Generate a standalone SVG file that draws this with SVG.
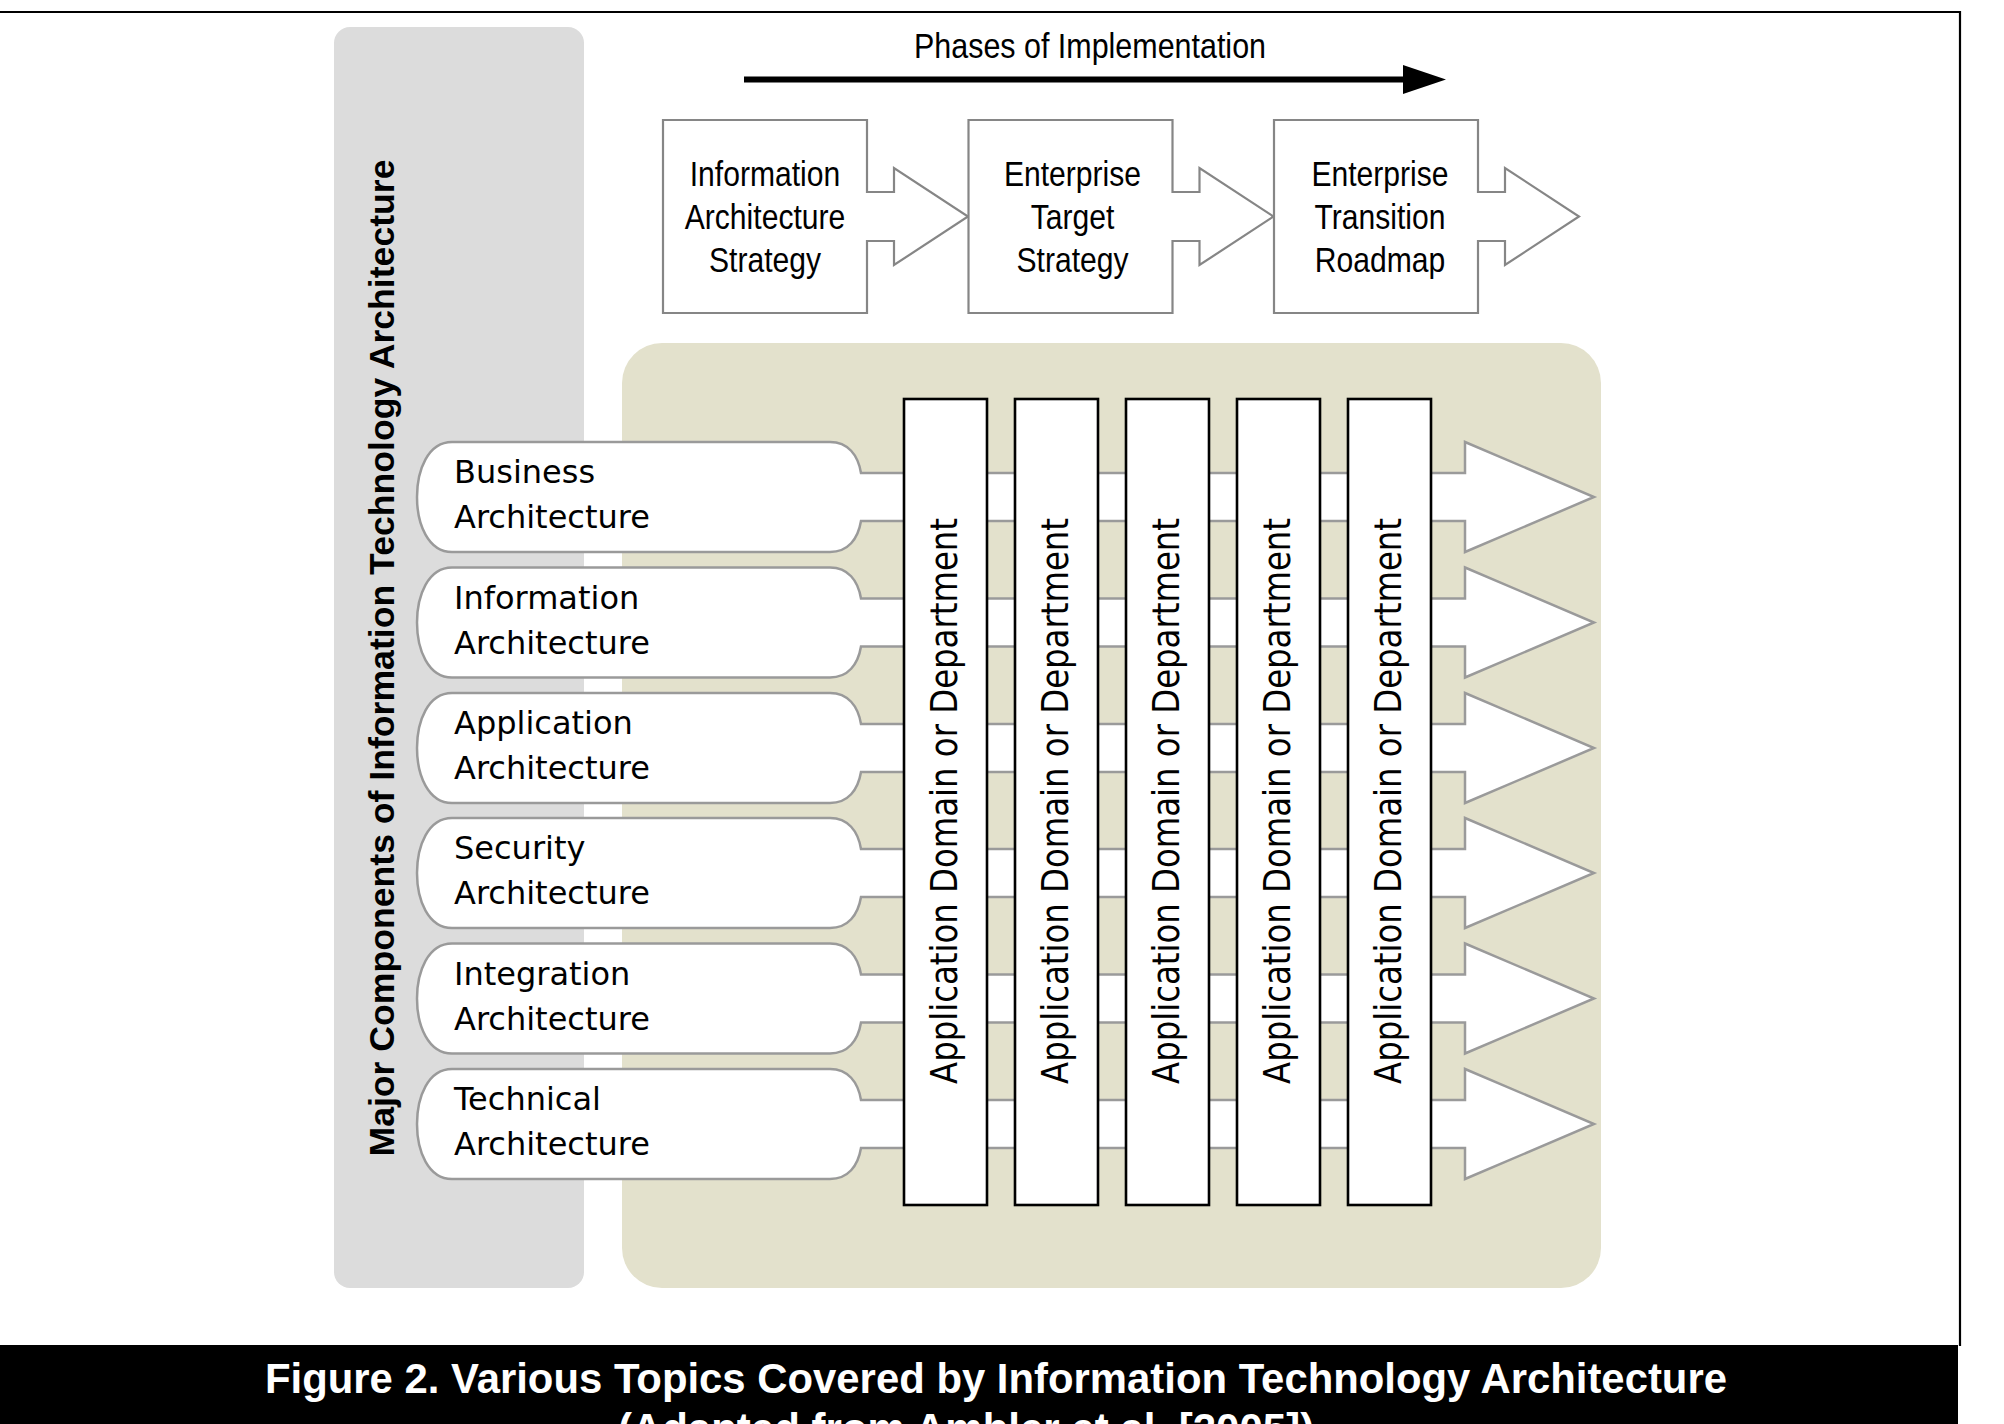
<svg xmlns="http://www.w3.org/2000/svg" xmlns:xlink="http://www.w3.org/1999/xlink" width="2004" height="1424" viewBox="0 0 2004 1424">
<style>
.bg{fill:#ffffff}
.frame{fill:none;stroke:#000000;stroke-width:2.2}
.panelGray{fill:#dcdcdc}
.panelBeige{fill:#e3e1cc}
.rowShape{fill:#ffffff;stroke:#9a9a9a;stroke-width:2.5;stroke-linejoin:miter}
.phaseShape{fill:#ffffff;stroke:#868686;stroke-width:2.2;stroke-linejoin:miter}
.col{fill:#ffffff;stroke:#000000;stroke-width:2.6}
.narrow{font-family:"Liberation Sans",Arial,sans-serif;font-size:35px;fill:#000000;text-anchor:middle}
.label{font-family:"DejaVu Sans",Verdana,sans-serif;font-size:32px;fill:#000000}
.coltext{font-family:"DejaVu Sans",Verdana,sans-serif;font-size:38px;fill:#000000;text-anchor:middle}
.title{font-family:"Liberation Sans",Arial,sans-serif;font-weight:bold;font-size:35.5px;fill:#000000;text-anchor:middle}
.caption{font-family:"Liberation Sans",Arial,sans-serif;font-weight:bold;font-size:42px;fill:#ffffff;text-anchor:middle}
</style>
<defs>
<path id="rowArrow" class="rowShape" d="M452,-55 L830,-55 C848,-55 858,-42 861,-24 L1465,-24 L1465,-55 L1594,0 L1465,55 L1465,24 L861,24 C858,42 848,55 830,55 L452,55 C428,55 417,27 417,0 C417,-27 428,-55 452,-55 Z"/>
<path id="phaseArrow" class="phaseShape" d="M0,0 L204,0 L204,72 L231,72 L231,48 L305,96.5 L231,145 L231,121 L204,121 L204,193 L0,193 Z"/>
</defs>
<rect class="bg" x="0" y="0" width="2004" height="1424"/>
<path class="frame" d="M0,12 L1960,12 L1960,1346"/>

<g id="components-panel">
<rect class="panelGray" x="334" y="27" width="250" height="1261" rx="16" ry="16"/>
<text class="title" transform="translate(394 658) rotate(-90)" textLength="997" lengthAdjust="spacingAndGlyphs">Major Components of Information Technology Architecture</text>
</g>
<g id="domains-panel">
<rect class="panelBeige" x="622" y="343" width="979" height="945" rx="40" ry="40"/>
</g>

<g id="connectors">
<line x1="744" y1="79.5" x2="1406" y2="79.5" stroke="#000000" stroke-width="6"/>
<polygon points="1403,65 1446,79.5 1403,94" fill="#000000"/>
</g>
<g id="phases-label">
<text class="narrow" font-size="34" transform="translate(1090 58) scale(0.87 1)" x="0" y="0">Phases of Implementation</text>
</g>

<g id="phase-1" transform="translate(663 120)">
<use xlink:href="#phaseArrow"/>
<text class="narrow" transform="translate(102 66) scale(0.86 1)">Information</text>
<text class="narrow" transform="translate(102 109) scale(0.86 1)">Architecture</text>
<text class="narrow" transform="translate(102 152) scale(0.86 1)">Strategy</text>
</g>
<g id="phase-2" transform="translate(968.5 120)">
<use xlink:href="#phaseArrow"/>
<text class="narrow" transform="translate(104 66) scale(0.86 1)">Enterprise</text>
<text class="narrow" transform="translate(104 109) scale(0.86 1)">Target</text>
<text class="narrow" transform="translate(104 152) scale(0.86 1)">Strategy</text>
</g>
<g id="phase-3" transform="translate(1274 120)">
<use xlink:href="#phaseArrow"/>
<text class="narrow" transform="translate(106 66) scale(0.86 1)">Enterprise</text>
<text class="narrow" transform="translate(106 109) scale(0.86 1)">Transition</text>
<text class="narrow" transform="translate(106 152) scale(0.86 1)">Roadmap</text>
</g>

<g id="business-architecture" transform="translate(0 497)">
<use xlink:href="#rowArrow"/>
<text class="label" x="454" y="-14">Business</text>
<text class="label" x="454" y="31">Architecture</text>
</g>
<g id="information-architecture" transform="translate(0 622.5)">
<use xlink:href="#rowArrow"/>
<text class="label" x="454" y="-14">Information</text>
<text class="label" x="454" y="31">Architecture</text>
</g>
<g id="application-architecture" transform="translate(0 748)">
<use xlink:href="#rowArrow"/>
<text class="label" x="454" y="-14">Application</text>
<text class="label" x="454" y="31">Architecture</text>
</g>
<g id="security-architecture" transform="translate(0 873)">
<use xlink:href="#rowArrow"/>
<text class="label" x="454" y="-14">Security</text>
<text class="label" x="454" y="31">Architecture</text>
</g>
<g id="integration-architecture" transform="translate(0 998.5)">
<use xlink:href="#rowArrow"/>
<text class="label" x="454" y="-14">Integration</text>
<text class="label" x="454" y="31">Architecture</text>
</g>
<g id="technical-architecture" transform="translate(0 1124)">
<use xlink:href="#rowArrow"/>
<text class="label" x="454" y="-14">Technical</text>
<text class="label" x="454" y="31">Architecture</text>
</g>

<g id="domain-1">
<rect class="col" x="904" y="399" width="83" height="806"/>
<text class="coltext" transform="translate(957 801) rotate(-90)" textLength="566" lengthAdjust="spacingAndGlyphs">Application Domain or Department</text>
</g>
<g id="domain-2">
<rect class="col" x="1015" y="399" width="83" height="806"/>
<text class="coltext" transform="translate(1068 801) rotate(-90)" textLength="566" lengthAdjust="spacingAndGlyphs">Application Domain or Department</text>
</g>
<g id="domain-3">
<rect class="col" x="1126" y="399" width="83" height="806"/>
<text class="coltext" transform="translate(1179 801) rotate(-90)" textLength="566" lengthAdjust="spacingAndGlyphs">Application Domain or Department</text>
</g>
<g id="domain-4">
<rect class="col" x="1237" y="399" width="83" height="806"/>
<text class="coltext" transform="translate(1290 801) rotate(-90)" textLength="566" lengthAdjust="spacingAndGlyphs">Application Domain or Department</text>
</g>
<g id="domain-5">
<rect class="col" x="1348" y="399" width="83" height="806"/>
<text class="coltext" transform="translate(1401 801) rotate(-90)" textLength="566" lengthAdjust="spacingAndGlyphs">Application Domain or Department</text>
</g>

<g id="caption">
<rect x="0" y="1345" width="1958" height="79" fill="#000000"/>
<text class="caption" x="996" y="1393" textLength="1462" lengthAdjust="spacingAndGlyphs">Figure 2. Various Topics Covered by Information Technology Architecture</text>
<text class="caption" x="966" y="1443">(Adapted from Ambler et al. [2005])</text>
</g>
</svg>
